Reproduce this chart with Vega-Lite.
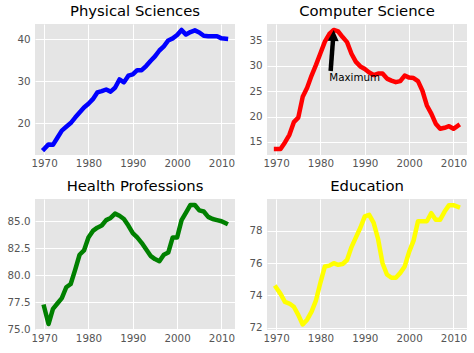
{
  "$schema": "https://vega.github.io/schema/vega-lite/v6.json",
  "padding": {"left": 7, "top": 4, "right": 5, "bottom": 4},
  "datasets": {
    "deg": [
      {"year": 1970, "ps": 13.8, "cs": 13.6, "health": 77.1, "edu": 74.5},
      {"year": 1971, "ps": 14.9, "cs": 13.6, "health": 75.5, "edu": 74.1},
      {"year": 1972, "ps": 14.8, "cs": 14.9, "health": 76.9, "edu": 73.6},
      {"year": 1973, "ps": 16.5, "cs": 16.4, "health": 77.4, "edu": 73.5},
      {"year": 1974, "ps": 18.2, "cs": 18.9, "health": 77.9, "edu": 73.3},
      {"year": 1975, "ps": 19.1, "cs": 19.8, "health": 78.9, "edu": 72.8},
      {"year": 1976, "ps": 20.0, "cs": 23.9, "health": 79.2, "edu": 72.2},
      {"year": 1977, "ps": 21.3, "cs": 25.7, "health": 80.5, "edu": 72.5},
      {"year": 1978, "ps": 22.5, "cs": 28.1, "health": 81.9, "edu": 73.0},
      {"year": 1979, "ps": 23.7, "cs": 30.2, "health": 82.3, "edu": 73.7},
      {"year": 1980, "ps": 24.6, "cs": 32.5, "health": 83.5, "edu": 74.8},
      {"year": 1981, "ps": 25.7, "cs": 34.8, "health": 84.1, "edu": 75.8},
      {"year": 1982, "ps": 27.3, "cs": 36.3, "health": 84.4, "edu": 75.85},
      {"year": 1983, "ps": 27.6, "cs": 37.1, "health": 84.6, "edu": 76.0},
      {"year": 1984, "ps": 28.0, "cs": 36.8, "health": 85.1, "edu": 75.9},
      {"year": 1985, "ps": 27.5, "cs": 35.7, "health": 85.3, "edu": 75.95},
      {"year": 1986, "ps": 28.4, "cs": 34.7, "health": 85.7, "edu": 76.2},
      {"year": 1987, "ps": 30.4, "cs": 32.4, "health": 85.5, "edu": 77.0},
      {"year": 1988, "ps": 29.7, "cs": 30.8, "health": 85.2, "edu": 77.6},
      {"year": 1989, "ps": 31.3, "cs": 29.9, "health": 84.6, "edu": 78.2},
      {"year": 1990, "ps": 31.6, "cs": 29.4, "health": 83.9, "edu": 78.9},
      {"year": 1991, "ps": 32.6, "cs": 28.7, "health": 83.5, "edu": 79.0},
      {"year": 1992, "ps": 32.6, "cs": 28.2, "health": 83.0, "edu": 78.5},
      {"year": 1993, "ps": 33.6, "cs": 28.5, "health": 82.4, "edu": 77.5},
      {"year": 1994, "ps": 34.8, "cs": 28.5, "health": 81.8, "edu": 76.0},
      {"year": 1995, "ps": 35.9, "cs": 27.5, "health": 81.5, "edu": 75.3},
      {"year": 1996, "ps": 37.3, "cs": 27.1, "health": 81.3, "edu": 75.1},
      {"year": 1997, "ps": 38.3, "cs": 26.8, "health": 81.9, "edu": 75.1},
      {"year": 1998, "ps": 39.7, "cs": 27.0, "health": 82.1, "edu": 75.4},
      {"year": 1999, "ps": 40.2, "cs": 28.1, "health": 83.5, "edu": 75.8},
      {"year": 2000, "ps": 41.0, "cs": 27.7, "health": 83.5, "edu": 76.7},
      {"year": 2001, "ps": 42.2, "cs": 27.6, "health": 85.1, "edu": 77.4},
      {"year": 2002, "ps": 41.1, "cs": 27.0, "health": 85.8, "edu": 78.6},
      {"year": 2003, "ps": 41.7, "cs": 25.1, "health": 86.5, "edu": 78.6},
      {"year": 2004, "ps": 42.1, "cs": 22.2, "health": 86.5, "edu": 78.6},
      {"year": 2005, "ps": 41.6, "cs": 20.6, "health": 86.0, "edu": 79.1},
      {"year": 2006, "ps": 40.8, "cs": 18.6, "health": 85.9, "edu": 78.7},
      {"year": 2007, "ps": 40.7, "cs": 17.6, "health": 85.4, "edu": 78.7},
      {"year": 2008, "ps": 40.7, "cs": 17.8, "health": 85.2, "edu": 79.2},
      {"year": 2009, "ps": 40.7, "cs": 18.1, "health": 85.1, "edu": 79.6},
      {"year": 2010, "ps": 40.2, "cs": 17.6, "health": 85.0, "edu": 79.6},
      {"year": 2011, "ps": 40.1, "cs": 18.2, "health": 84.8, "edu": 79.5}
    ],
    "label": [{"year": 1982, "val": 27.1, "text": "Maximum"}],
    "shaft": [{"year": 1982.3, "val": 29.0, "year2": 1982.86, "val2": 35.5}],
    "head": [{"year": 1983, "val": 37.1}]
  },
  "columns": 2,
  "spacing": {"row": 10, "column": 13},
  "concat": [
    {
      "title": "Physical Sciences",
      "width": 200, "height": 131,
      "data": {"name": "deg"},
      "mark": {"type": "line", "color": "#0000FF", "strokeWidth": 4.5, "strokeJoin": "round", "strokeCap": "square", "clip": true},
      "encoding": {
        "x": {"field": "year", "type": "quantitative", "title": null, "scale": {"domain": [1967.95, 2013.05], "nice": false, "zero": false}, "axis": {"values": [1970, 1980, 1990, 2000, 2010], "format": "d"}},
        "y": {"field": "ps", "type": "quantitative", "title": null, "scale": {"domain": [12.38, 43.62], "nice": false, "zero": false}, "axis": {"values": [20, 30, 40], "labelPadding": 5}}
      }
    },
    {
      "title": "Computer Science",
      "width": 200, "height": 131,
      "encoding": {
        "x": {"field": "year", "type": "quantitative", "title": null, "scale": {"domain": [1967.95, 2013.05], "nice": false, "zero": false}, "axis": {"values": [1970, 1980, 1990, 2000, 2010], "format": "d"}},
        "y": {"field": "val", "type": "quantitative", "title": null, "scale": {"domain": [12.425, 38.275], "nice": false, "zero": false}, "axis": {"values": [15, 20, 25, 30, 35], "labelPadding": 5, "labelOverlap": false, "format": "d"}}
      },
      "layer": [
        {
          "data": {"name": "deg"},
          "mark": {"type": "line", "color": "#FF0000", "strokeWidth": 4.5, "strokeJoin": "round", "strokeCap": "square", "clip": true},
          "encoding": {
            "y": {"field": "cs", "type": "quantitative", "title": null}
          }
        },
        {
          "data": {"name": "label"},
          "mark": {"type": "text", "align": "left", "baseline": "alphabetic", "fontSize": 10.3, "font": "DejaVu Sans", "color": "#000000"},
          "encoding": {
            "text": {"field": "text"}
          }
        },
        {
          "data": {"name": "shaft"},
          "mark": {"type": "rule", "color": "#000000", "strokeWidth": 4.5},
          "encoding": {
            "x2": {"field": "year2"},
            "y2": {"field": "val2"}
          }
        },
        {
          "data": {"name": "head"},
          "mark": {"type": "point", "shape": "M0,0L-1,2L1,2Z", "size": 121, "angle": 3, "filled": true, "color": "#000000", "opacity": 1},
          "encoding": {}
        }
      ]
    },
    {
      "title": "Health Professions",
      "width": 200, "height": 131,
      "data": {"name": "deg"},
      "mark": {"type": "line", "color": "#008000", "strokeWidth": 4.5, "strokeJoin": "round", "strokeCap": "square", "clip": true},
      "encoding": {
        "x": {"field": "year", "type": "quantitative", "title": null, "scale": {"domain": [1967.95, 2013.05], "nice": false, "zero": false}, "axis": {"values": [1970, 1980, 1990, 2000, 2010], "format": "d"}},
        "y": {"field": "health", "type": "quantitative", "title": null, "scale": {"domain": [74.95, 87.05], "nice": false, "zero": false}, "axis": {"values": [75, 77.5, 80, 82.5, 85], "format": ".1f", "labelPadding": 5}}
      }
    },
    {
      "title": "Education",
      "width": 200, "height": 131,
      "data": {"name": "deg"},
      "mark": {"type": "line", "color": "#FFFF00", "strokeWidth": 4.5, "strokeJoin": "round", "strokeCap": "square", "clip": true},
      "encoding": {
        "x": {"field": "year", "type": "quantitative", "title": null, "scale": {"domain": [1967.95, 2013.05], "nice": false, "zero": false}, "axis": {"values": [1970, 1980, 1990, 2000, 2010], "format": "d"}},
        "y": {"field": "edu", "type": "quantitative", "title": null, "scale": {"domain": [71.86, 79.98], "nice": false, "zero": false}, "axis": {"values": [72, 74, 76, 78], "labelPadding": 5}}
      }
    }
  ],
  "config": {
    "font": "DejaVu Sans",
    "background": "#FFFFFF",
    "view": {"fill": "#E5E5E5", "stroke": null},
    "axis": {"grid": true, "gridColor": "#FFFFFF", "gridWidth": 1, "gridOpacity": 1, "domain": false, "ticks": false, "labelColor": "#555555", "labelFont": "DejaVu Sans", "labelFontSize": 10.3, "labelPadding": 3.5, "labelOverlap": false, "labelFlush": false},
    "title": {"font": "DejaVu Sans", "fontSize": 14.8, "fontWeight": "normal", "color": "#000000", "offset": 5}
  }
}
